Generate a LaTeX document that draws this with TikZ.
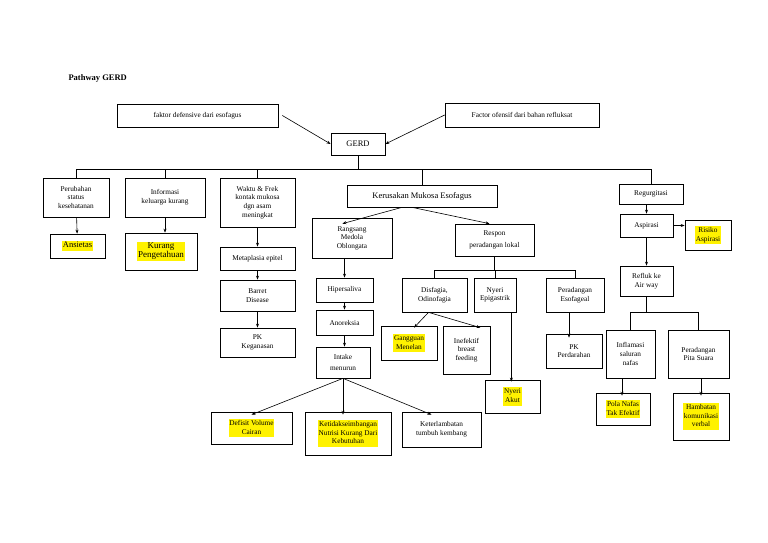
\documentclass[tikz,border=0pt]{standalone}
\usepackage{fontspec}
\setmainfont{Liberation Serif}
\usetikzlibrary{arrows.meta}
\newcommand\bx[6]{\node[box,minimum width={(#4-#2)*1pt},minimum height={(#5-#3)*1pt}] (#1) at ({(#2+#4)/2},{(#3+#5)/2}) {#6};}
\newcommand\hlt[1]{{\setlength\fboxsep{0.8pt}\colorbox{yellow}{\begin{tabular}{@{}c@{}}#1\end{tabular}}}}
\begin{document}
\begin{tikzpicture}[x=1pt,y=-1pt,
  box/.style={draw,line width=0.7pt,align=center,inner sep=1pt,font=\fontsize{7.3}{8.6}\selectfont},
  arr/.style={-{Stealth[length=4pt,width=3pt]},line width=0.6pt},
  ln/.style={line width=0.5pt}]
\useasboundingbox (0,0) rectangle (768,543);
\node[anchor=west,font=\bfseries\fontsize{8.5}{10}\selectfont] (title) at (65,78) {Pathway GERD};
\bx{def}{117}{104}{278}{127}{faktor defensive dari esofagus}
\bx{ofe}{445}{103}{599}{127}{Factor ofensif dari bahan refluksat}
\node[box,font=\fontsize{8.5}{10}\selectfont,minimum width=54pt,minimum height=22pt] (gerd) at (358,144) {GERD};
\bx{perub}{43}{178}{109}{217}{Perubahan\\status\\kesehatanan}
\bx{ans}{50}{234}{105}{258}{\fontsize{8.5}{9}\selectfont\hlt{Ansietas}}
\bx{info}{125}{178}{205}{217}{Informasi\\keluarga kurang}
\bx{kp}{125}{233}{197}{270}{\fontsize{9}{8}\selectfont\hlt{Kurang\\Pengetahuan}}
\bx{waktu}{220}{178}{295}{227}{Waktu \& Frek\\kontak mukosa\\dgn asam\\meningkat}
\bx{meta}{220}{247}{295}{270}{Metaplasia epitel}
\bx{barret}{220}{280}{295}{311}{Barret\\Disease}
\bx{pkk}{220}{328}{295}{357}{PK\\Keganasan}
\node[box,font=\fontsize{8.5}{10}\selectfont,minimum width=150pt,minimum height=22pt] (kerus) at (422,196) {Kerusakan Mukosa Esofagus};
\bx{rang}{312}{218}{392}{258}{Rangsang\\Medola\\Oblongata}
\bx{hiper}{316}{278}{373}{302}{Hipersaliva}
\bx{anor}{316}{310}{373}{335}{Anoreksia}
\bx{intake}{316}{347}{370}{378}{Intake\\[3pt]menurun}
\bx{defis}{211}{412}{292}{444}{\hlt{Defisit Volume\\Cairan}}
\bx{ketid}{305}{412}{391}{455}{\hlt{Ketidakseimbangan\\Nutrisi Kurang Dari\\Kebutuhan}}
\bx{keter}{402}{412}{481}{447}{Keterlambatan\\tumbuh kembang}
\bx{respon}{455}{224}{534}{256}{Respon\\[3pt]peradangan lokal}
\bx{disf}{402}{278}{467}{312}{Disfagia,\\Odinofagia}
\bx{nyeri}{474}{278}{516}{312}{Nyeri\\Epigastrik}
\bx{perad}{546}{278}{604}{312}{Peradangan\\Esofageal}
\bx{gang}{381}{326}{437}{360}{\hlt{Gangguan\\Menelan}}
\bx{inef}{443}{326}{490}{374}{Inefektif\\breast\\feeding}
\bx{akut}{485}{380}{540}{413}{\hlt{Nyeri\\Akut}}
\bx{pkp}{546}{334}{602}{368}{PK\\Perdarahan}
\bx{regu}{619}{184}{683}{204}{Regurgitasi}
\bx{aspi}{620}{214}{673}{237}{Aspirasi}
\bx{risk}{685}{220}{731}{250}{\hlt{Risiko\\Aspirasi}}
\bx{refl}{620}{266}{673}{296}{Refluk ke\\Air way}
\bx{infl}{606}{330}{655}{378}{Inflamasi\\saluran\\nafas}
\bx{pita}{668}{330}{729}{378}{Peradangan\\Pita Suara}
\bx{pola}{596}{393}{650}{425}{\hlt{Pola Nafas\\Tak Efektif}}
\bx{hamb}{673}{393}{729}{440}{\hlt{Hambatan\\komunikasi\\verbal}}
% top arrows
\draw[arr] ([xshift=4pt]def.east) -- (gerd.west);
\draw[arr] (ofe.west) -- (gerd.east);
% main bar
\coordinate (bar) at (358,169);
\draw[ln] (gerd.south) -- (bar);
\draw[ln] (bar) -| (perub.north);
\draw[ln] (bar) -| (info.north);
\draw[ln] (bar) -| (waktu.north);
\draw[ln] (bar) -| (kerus.north);
\draw[ln] (bar) -| (regu.north);
% vertical chains
\draw[arr] (perub) -- (ans);
\draw[arr] (info.south) -- (info.south |- kp.north);
\draw[arr] (waktu) -- (meta);
\draw[arr] (meta) -- (barret);
\draw[arr] (barret) -- (pkk);
\draw[arr] ([xshift=-20pt]kerus.south) -- ([xshift=-50pt,yshift=-6pt]rang.north east);
\draw[arr] ([xshift=-10pt]kerus.south) -- ([xshift=-5pt]respon.north);
\draw[arr] (rang.south -| hiper.north) -- (hiper);
\draw[arr] (hiper) -- (anor);
\draw[arr] (anor.south) -- (anor.south |- intake.north);
\draw[arr] (intake.south) -- ([yshift=-3pt]defis.north);
\draw[arr] (intake.south) -- ([yshift=-3pt]intake.south |- ketid.north);
\draw[arr] (intake.south) -- ([xshift=-10pt,yshift=-3pt]keter.north);
% respon bracket
\coordinate (rbar) at (495,270);
\draw[ln] (respon.south) -- (respon.south |- rbar);
\draw[ln] (disf.north) -- (disf.north |- rbar) -- (perad.north |- rbar) -- (perad.north);
\draw[ln] (nyeri.north) -- (nyeri.north |- rbar);
\draw[arr] ([xshift=-6pt]disf.south) -- ([xshift=5pt,yshift=-2pt]gang.north);
\draw[arr] ([xshift=-6pt]disf.south) -- ([xshift=-10pt,yshift=-2pt]inef.north east);
\draw[arr] ([xshift=-29pt]akut.north east |- nyeri.south) -- ([xshift=-29pt,yshift=-2pt]akut.north east);
\draw[arr] ([xshift=-6pt]perad.south) -- ([xshift=-6pt,yshift=-4pt]perad.south |- pkp.north);
% right branch
\draw[arr] (regu.south -| aspi.north) -- (aspi);
\draw[arr] (aspi) -- (aspi.east -| risk.west);
\draw[arr] (aspi) -- (refl);
\coordinate (fbar) at (647,312);
\draw[ln] (refl.south) -- (refl.south |- fbar);
\draw[ln] (infl.north) -- (infl.north |- fbar) -- (pita.north |- fbar) -- (pita.north);
\draw[arr] ([xshift=-1pt]infl.south -| pola.north) -- ([xshift=-1pt,yshift=-3pt]pola.north);
\draw[arr] (pita.south -| hamb.north) -- ([yshift=-3pt]hamb.north);
\end{tikzpicture}
\end{document}
